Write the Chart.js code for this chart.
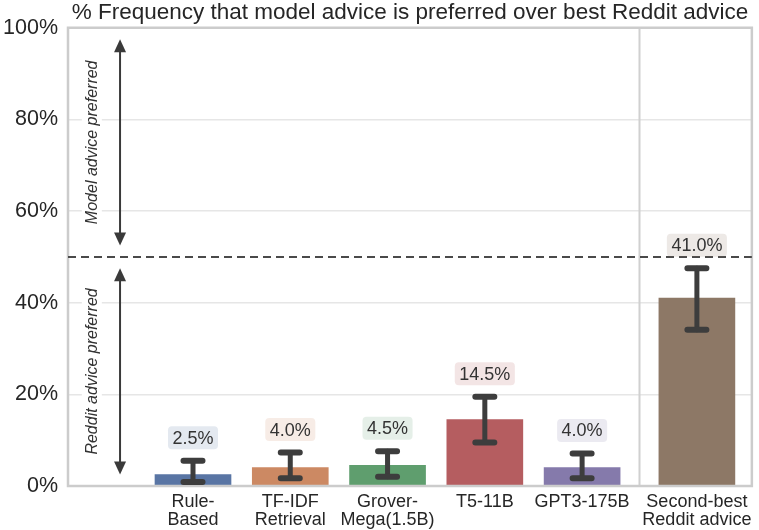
<!DOCTYPE html>
<html>
<head>
<meta charset="utf-8">
<script src="https://cdn.jsdelivr.net/npm/chart.js@4"></script>
<style>
  html, body { margin: 0; padding: 0; background: #fff; }
  #wrap { width: 759px; height: 530px; }
</style>
</head>
<body>
<div id="wrap"><canvas id="prefChart" width="759" height="530"></canvas></div>
<script>
const titleText = "% Frequency that model advice is preferred over best Reddit advice";
const tickLabels = [
  ["Rule-", "Based"],
  ["TF-IDF", "Retrieval"],
  ["Grover-", "Mega(1.5B)"],
  ["T5-11B"],
  ["GPT3-175B"],
  ["Second-best", "Reddit advice"]
];
const positions = [0, 1, 2, 3, 4, 5.18];
const values = [2.5, 4.0, 4.5, 14.5, 4.0, 41.0];
const errLow = [0.9, 1.7, 2.0, 9.5, 1.7, 34.1];
const errHigh = [5.5, 7.3, 7.6, 19.5, 7.1, 47.5];
const valueLabels = ["2.5%", "4.0%", "4.5%", "14.5%", "4.0%", "41.0%"];
const barColors = ["#5975a4", "#cc8963", "#5f9e6e", "#b55d60", "#857aab", "#8d7866"];
const labelFills = [
  "rgba(89,117,164,0.16)", "rgba(204,137,99,0.16)", "rgba(95,158,110,0.16)",
  "rgba(181,93,96,0.16)", "rgba(133,122,171,0.16)", "rgba(141,120,102,0.16)"
];
const yTicks = [0, 20, 40, 60, 80, 100];
const separatorAt = 4.59;
const arrowAt = -0.75;
const arrowTextAt = -1.04;
const splitLine = 50;

const FONT = "'Liberation Sans', Arial, sans-serif";
const INK = "#262626";

function roundRect(ctx, x, y, w, h, r) {
  ctx.beginPath();
  ctx.moveTo(x + r, y);
  ctx.arcTo(x + w, y, x + w, y + h, r);
  ctx.arcTo(x + w, y + h, x, y + h, r);
  ctx.arcTo(x, y + h, x, y, r);
  ctx.arcTo(x, y, x + w, y, r);
  ctx.closePath();
}

function arrowHead(ctx, x, tipY, dir) {
  // dir = -1 points up, 1 points down
  ctx.beginPath();
  ctx.moveTo(x, tipY);
  ctx.lineTo(x - 6, tipY - dir * 13);
  ctx.lineTo(x + 6, tipY - dir * 13);
  ctx.closePath();
  ctx.fill();
}

const decorations = {
  id: "decorations",
  beforeDatasetsDraw(chart) {
    const { ctx, chartArea: a, scales: { x, y } } = chart;
    ctx.save();
    // separator between models and second-best reddit
    const sx = x.getPixelForValue(separatorAt);
    ctx.strokeStyle = "#d0d0d0";
    ctx.lineWidth = 2;
    ctx.beginPath();
    ctx.moveTo(sx, a.top);
    ctx.lineTo(sx, a.bottom);
    ctx.stroke();

    // arrows
    const ax = x.getPixelForValue(arrowAt);
    ctx.strokeStyle = "#3a3a3a";
    ctx.fillStyle = "#3a3a3a";
    ctx.lineWidth = 2;
    [[97.5, 52.5], [47.5, 2.5]].forEach(([top, bot]) => {
      const t = y.getPixelForValue(top);
      const b = y.getPixelForValue(bot);
      ctx.beginPath();
      ctx.moveTo(ax, t + 10);
      ctx.lineTo(ax, b - 10);
      ctx.stroke();
      arrowHead(ctx, ax, t, -1);
      arrowHead(ctx, ax, b, 1);
    });

    // rotated side texts
    const tx = x.getPixelForValue(arrowTextAt);
    ctx.font = "italic 16px " + FONT;
    ctx.textAlign = "center";
    ctx.textBaseline = "middle";
    [["Model advice preferred", 75], ["Reddit advice preferred", 25]].forEach(([txt, v]) => {
      ctx.save();
      ctx.translate(tx, y.getPixelForValue(v));
      ctx.rotate(-Math.PI / 2);
      const w = ctx.measureText(txt).width;
      ctx.fillStyle = "#fff";
      ctx.fillRect(-w / 2 - 3, -10, w + 6, 20);
      ctx.fillStyle = "#333";
      ctx.fillText(txt, 0, 1);
      ctx.restore();
    });
    ctx.restore();
  },
  afterDatasetsDraw(chart) {
    const { ctx, chartArea: a, scales: { x, y } } = chart;
    ctx.save();
    // frame
    ctx.strokeStyle = "#cccccc";
    ctx.lineWidth = 2.5;
    ctx.strokeRect(a.left, a.top, a.right - a.left, a.bottom - a.top);

    // dashed 50% line
    const dy = y.getPixelForValue(splitLine);
    ctx.strokeStyle = "#4a4a4a";
    ctx.lineWidth = 2;
    ctx.setLineDash([8, 5]);
    ctx.beginPath();
    ctx.moveTo(a.left, dy);
    ctx.lineTo(a.right, dy);
    ctx.stroke();
    ctx.setLineDash([]);

    // error bars
    ctx.strokeStyle = "#3d3d3d";
    ctx.lineCap = "round";
    positions.forEach((p, i) => {
      const cx = x.getPixelForValue(p);
      const lo = y.getPixelForValue(errLow[i]);
      const hi = y.getPixelForValue(errHigh[i]);
      ctx.lineWidth = 5;
      ctx.beginPath();
      ctx.moveTo(cx, lo);
      ctx.lineTo(cx, hi);
      ctx.stroke();
      ctx.lineWidth = 6;
      ctx.beginPath();
      ctx.moveTo(cx - 9.5, hi);
      ctx.lineTo(cx + 9.5, hi);
      ctx.moveTo(cx - 9.5, lo);
      ctx.lineTo(cx + 9.5, lo);
      ctx.stroke();
    });

    // value labels
    ctx.font = "18px " + FONT;
    ctx.textAlign = "center";
    ctx.textBaseline = "middle";
    positions.forEach((p, i) => {
      const cx = x.getPixelForValue(p);
      const cy = y.getPixelForValue(errHigh[i]) - 23;
      const w = ctx.measureText(valueLabels[i]).width + 9;
      ctx.fillStyle = labelFills[i];
      roundRect(ctx, cx - w / 2, cy - 11.5, w, 23, 4);
      ctx.fill();
      ctx.fillStyle = "#333";
      ctx.fillText(valueLabels[i], cx, cy + 1);
    });
    ctx.restore();
  }
};

const ctx = document.getElementById("prefChart").getContext("2d");
new Chart(ctx, {
  type: "bar",
  data: {
    datasets: [{
      data: positions.map((p, i) => ({ x: p, y: values[i] })),
      backgroundColor: barColors,
      borderWidth: 0,
      barThickness: 76
    }]
  },
  options: {
    responsive: false,
    animation: false,
    layout: { padding: { left: 0, right: 7, top: 0, bottom: 0 } },
    plugins: {
      legend: { display: false },
      tooltip: { enabled: false },
      title: {
        display: true,
        text: titleText,
        fullSize: false,
        color: INK,
        font: { family: FONT, size: 22.5, weight: "normal", lineHeight: 1.1 },
        padding: { top: 0, bottom: 3 }
      }
    },
    scales: {
      x: {
        type: "linear",
        offset: false,
        min: -1.285,
        max: 5.745,
        grid: { display: false, drawTicks: false },
        border: { display: false },
        afterBuildTicks: scale => {
          scale.ticks = positions.map(v => ({ value: v }));
        },
        afterFit: scale => { scale.height = 44; },
        ticks: {
          autoSkip: false,
          maxRotation: 0,
          padding: 7,
          color: INK,
          font: { family: FONT, size: 18, lineHeight: 1.0 },
          callback: (v, i) => tickLabels[i]
        }
      },
      y: {
        min: 0,
        max: 100,
        afterBuildTicks: scale => {
          scale.ticks = yTicks.map(v => ({ value: v }));
        },
        afterFit: scale => { scale.width = 68; },
        grid: { color: "#e6e6e6", lineWidth: 1.5, drawTicks: false },
        border: { display: false },
        ticks: {
          padding: 10,
          color: INK,
          font: { family: FONT, size: 21.5 },
          callback: v => v + "%"
        }
      }
    }
  },
  plugins: [decorations]
});
</script>
</body>
</html>
